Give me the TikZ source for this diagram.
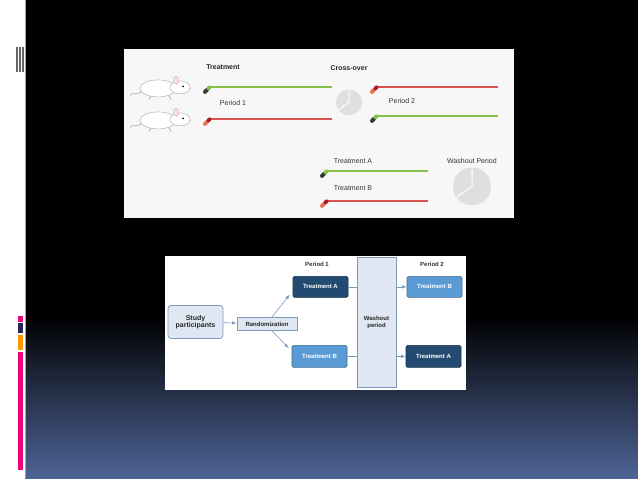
\documentclass[tikz,border=0pt]{standalone}
\usepackage{fontspec}
\setmainfont{Liberation Sans}
\newcommand{\myline}[7]{% name, line col, dark col, light col, x1, x2, y
  \coordinate (#1s) at (#5,#7); \coordinate (#1e) at (#6,#7);
  \fill[#2] ([yshift=-0.9pt]#1s) rectangle ([yshift=0.9pt]#1e);
  \draw[line width=4pt,line cap=round,draw=#3] ([shift={(-5,4.5)}]#1s) -- ([shift={(-3,2.5)}]#1s);
  \draw[line width=4pt,line cap=round,draw=#4] ([shift={(-1.5,1)}]#1s) -- ([shift={(-0.5,0)}]#1s);}
\begin{document}
\begin{tikzpicture}[x=1pt,y=-1pt,
  txt/.style={font=\fontsize{7}{8}\selectfont,text=black!80},
  btxt/.style={font=\fontsize{7}{8}\selectfont\bfseries,text=black!85},
  box/.style={draw=#1!70!black,fill=#1,rounded corners=1.5pt,line width=0.6pt,inner sep=0pt,text=white,font=\fontsize{6}{7}\selectfont\bfseries},
  lbox/.style={draw=bd,fill=lbf,line width=0.7pt,inner sep=0pt,text=black!85,font=\fontsize{6}{7}\selectfont\bfseries,align=center},
  conn/.style={draw=bd,line width=0.6pt},
  arr/.style={conn,-latex}
]
\definecolor{dk}{HTML}{234A70}\definecolor{lt}{HTML}{5B9BD5}
\definecolor{grn}{HTML}{86C04A}\definecolor{redl}{HTML}{D9534F}
\definecolor{gdk}{HTML}{2E3B2A}\definecolor{rdk}{HTML}{B0172B}\definecolor{ror}{HTML}{E8704F}
\definecolor{bd}{HTML}{7C9BBB}\definecolor{lbf}{HTML}{DFE8F2}
% background
\fill[black] (0,0) rectangle (638,478);
\shade[top color=black,bottom color={rgb,255:red,78;green,100;blue,150}] (25,315) rectangle (638,478);
\fill[white] (0,0) rectangle (25,478);
\draw[gray!70,line width=0.8pt] (25,0) -- (25,478);
\foreach \x in {16,19,22} \fill[gray!80!black] (\x,47) rectangle (\x+1.5,72);
\fill[magenta!85!red] (18,316) rectangle (23,322);
\fill[gray!60!blue!50!black] (18,323) rectangle (23,333);
\fill[orange!80!yellow] (18,335) rectangle (23,350);
\fill[magenta!85!red] (18,352) rectangle (23,470);
% ---------- top image ----------
\fill[gray!6] (124,49) rectangle (514,218);
\node[btxt] (tr) at (223,67) {Treatment};
\node[btxt] (co) at (349,68) {Cross-over};
\foreach \y/\n in {88/m1,120/m2}{
  \begin{scope}[shift={(160,\y)}]
   \draw[gray!70,line width=0.6pt] (-16,2) .. controls (-24,8) and (-28,3) .. (-30,7);
   \draw[gray!60,line width=0.8pt] (-8,6) -- (-11,11) (8,6) -- (11,11);
   \draw[gray!60,fill=white,line width=0.5pt] (-2,0) ellipse (18 and 8.5);
   \draw[gray!60,fill=white,line width=0.5pt] (20,-1) ellipse (10 and 6.5);
   \draw[gray!50,fill=pink!60] (16,-8) ellipse (3 and 4);
   \fill[black] (23,-2) circle (0.9);
   \fill[pink] (30,0) circle (1.1);
  \end{scope}
  \coordinate (\n) at (160,\y);
}
\myline{la}{grn}{gdk}{grn}{210}{332}{87}
\myline{lb}{redl}{ror}{rdk}{210}{332}{119}
\myline{lc}{redl}{ror}{rdk}{377}{498}{87}
\myline{ld}{grn}{gdk}{grn}{377}{498}{116}
\myline{le}{grn}{gdk}{grn}{327}{428}{171}
\myline{lg}{redl}{ror}{rdk}{327}{428}{201}
\node[txt] (pe1) at (233,103) {Period 1};
\node[txt] (pe2) at (402,101) {Period 2};
\node[txt] (ta) at (353,161) {Treatment A};
\node[txt] (tb) at (353,188) {Treatment B};
\node[txt] (wp) at (472,161) {Washout Period};
\foreach \n/\x/\y/\r in {pie1/349/102/13,pie2/472/186/19}{
  \fill[gray!25] (\x,\y) circle (\r);
  \coordinate (\n) at (\x,\y);
  \draw[white,line width=1pt] (\n) -- ++(0,-\r) (\n) -- ++(-0.8*\r,0.55*\r);
}
% ---------- bottom image ----------
\fill[white] (165,256) rectangle (466,390);
\node[font=\fontsize{6}{7}\selectfont\bfseries,text=black!80] (p1) at (317,264) {Period 1};
\node[font=\fontsize{6}{7}\selectfont\bfseries,text=black!80] (p2) at (432,264) {Period 2};
\node[lbox,minimum width=39pt,minimum height=130pt] (wash) at (376.5,322) {Washout\\period};
\node[lbox,rounded corners=3pt,minimum width=55pt,minimum height=33pt] (sp) at (195.5,321.5) {\fontsize{7}{8}\selectfont Study\\\fontsize{7}{8}\selectfont participants};
\node[lbox,minimum width=60pt,minimum height=13pt] (rand) at (267,323.5) {Randomization};
\node[box=dk,minimum width=55pt,minimum height=21pt] (a1) at (320.5,286.5) {Treatment A};
\node[box=lt,minimum width=55pt,minimum height=22pt] (b1) at (319.5,356) {Treatment B};
\node[box=lt,minimum width=55pt,minimum height=21pt] (b2) at (434.5,286.5) {Treatment B};
\node[box=dk,minimum width=55pt,minimum height=22pt] (a2) at (433.5,356) {Treatment A};
\draw[arr] (sp) -- (rand);
\draw[arr] ([xshift=5pt]rand.north) -- ([xshift=-3pt,yshift=3pt]a1.south west);
\draw[arr] ([xshift=5pt]rand.south) -- ([xshift=-3pt,yshift=-3pt]b1.north west);
\draw[conn] (a1) -- (a1 -| wash.west);
\draw[conn] (b1) -- (b1 -| wash.west);
\draw[arr] (b2 -| wash.east) -- (b2);
\draw[arr] (a2 -| wash.east) -- (a2);
\useasboundingbox (0,0) rectangle (638,478);
\end{tikzpicture}
\end{document}
